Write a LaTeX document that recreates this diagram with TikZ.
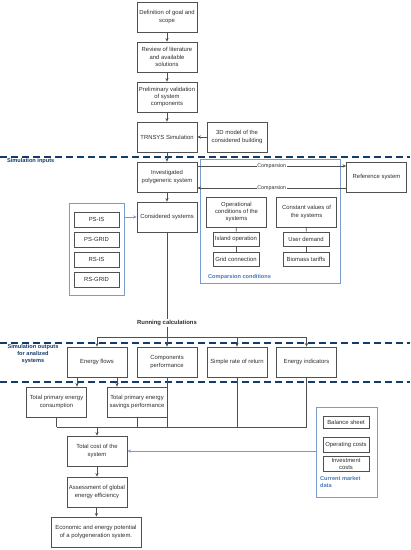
\documentclass[tikz,border=0pt]{standalone}
\usepackage{fontspec}
\setmainfont{Liberation Sans}
\usepackage{tikz}
\usetikzlibrary{arrows,arrows.meta,shapes,positioning}
\usepackage{xcolor}
\definecolor{sepblue}{RGB}{20,60,105}
\definecolor{grpblue}{RGB}{120,156,204}
\definecolor{lblblue}{RGB}{70,120,190}
\definecolor{boxgray}{RGB}{80,80,80}
\definecolor{txtgray}{RGB}{45,45,45}
\tikzstyle{box} = [draw=boxgray, line width=1.1pt, minimum width=30mm, minimum height=15mm, align=center, inner sep=1pt, text=txtgray, font=\fontsize{8.4}{10.4}\selectfont]
\tikzstyle{smallbox} = [box, minimum width=23mm, minimum height=7mm]
\tikzstyle{group} = [draw=grpblue, line width=1.2pt]
\tikzstyle{arrow} = [line width=1pt, color=boxgray, -{Stealth[length=5pt, width=4.5pt]}]
\tikzstyle{bluearrow} = [line width=1pt, color=grpblue, -{Stealth[length=5pt, width=4.5pt]}]
\tikzstyle{link} = [line width=1pt, color=boxgray]
\tikzstyle{separator} = [line width=2.4pt, color=sepblue, dash pattern=on 3.5mm off 2mm]
\tikzstyle{section} = [font=\fontsize{8}{9.8}\selectfont\bfseries, text=sepblue, align=center, inner sep=0pt]

\begin{document}
\begin{tikzpicture}[x=0.5mm, y=-0.5mm]
\useasboundingbox (0,0) rectangle (410,550);

% Separators
\draw[separator] (0,157) -- (410,157);
\draw[separator] (0,343) -- (410,343);
\draw[separator] (0,382) -- (410,382);
\node[section, anchor=west] (lblinputs) at (7,161.5) {Simulation inputs};
\node[section] (lbloutputs) at (33,354) {Simulation outputs\\for analized\\systems};

% Main column
\node[box] (goal) at (167,17) {Definition of goal and\\scope};
\node[box] (review) at (167,57) {Review of literature\\and available\\solutions};
\node[box] (prelim) at (167,97) {Preliminary validation\\of system\\components};
\node[box] (trnsys) at (167,137) {TRNSYS Simulation};
\node[box] (model) at (237,137) {3D model of the\\considered building};
\draw[arrow] (goal) -- (review);
\draw[arrow] (review) -- (prelim);
\draw[arrow] (prelim) -- (trnsys);
\draw[arrow] (model) -- (trnsys);

% Simulation inputs
\node[box] (invest) at (167,177) {Investigated\\polygeneric system};
\node[box] (considered) at (167,217) {Considered systems};
\node[box] (refsys) at (376.5,177) {Reference system};
\draw[arrow] (trnsys) -- (invest);
\draw[arrow] (invest) -- (considered);

% Comparsion conditions
\node[group, minimum width=70mm, minimum height=62mm] (compbox) at (270,221) {};
\node[font=\fontsize{8}{9.8}\selectfont\bfseries, text=lblblue, anchor=west, inner sep=0pt] (lblcomp) at (208,277.5) {Comparsion conditions};
\node[box] (opcond) at (236.5,212) {Operational\\conditions of the\\systems};
\node[box] (constval) at (306.5,212) {Constant values of\\the systems};
\node[smallbox] (island) at (236,239) {Island operation};
\node[smallbox] (gridconn) at (236,259) {Grid connection};
\node[smallbox] (userdem) at (306,239) {User demand};
\node[smallbox] (biomass) at (306,259) {Biomass tariffs};
\draw[link] (opcond) -- (island);
\draw[link] (island) -- (gridconn);
\draw[link] (constval) -- (userdem);
\draw[link] (userdem) -- (biomass);

\draw[arrow] ([yshift=5.5mm]invest.east) -- node[fill=white, inner sep=0.5pt, text=txtgray, font=\fontsize{7.6}{8}\selectfont] {Comparsion} ([yshift=5.5mm]refsys.west);
\draw[arrow] ([yshift=-5.5mm]refsys.west) -- node[fill=white, inner sep=0.5pt, text=txtgray, font=\fontsize{7.6}{8}\selectfont] {Comparsion} ([yshift=-5.5mm]invest.east);

% Considered systems
\node[group, minimum width=27.5mm, minimum height=46mm] (sysbox) at (96.5,249) {};
\node[smallbox, minimum width=22.5mm, minimum height=7.5mm] (psis) at (96.5,219.5) {PS-IS};
\node[smallbox, minimum width=22.5mm, minimum height=7.5mm] (psgrid) at (96.5,239.5) {PS-GRID};
\node[smallbox, minimum width=22.5mm, minimum height=7.5mm] (rsis) at (96.5,259.5) {RS-IS};
\node[smallbox, minimum width=22.5mm, minimum height=7.5mm] (rsgrid) at (96.5,279.5) {RS-GRID};
\draw[bluearrow] (sysbox.east |- considered) -- (considered.west);

% Running calculations
\node[font=\fontsize{8.4}{10}\selectfont\bfseries, text=txtgray, fill=white, inner sep=1pt] (running) at (167,323) {Running calculations};
\coordinate (split) at (167,337);
\draw[link] (considered.south) -- (running.north);
\draw[link] (running.south) -- (split);

% Simulation outputs
\node[box] (flows) at (97,362) {Energy flows};
\node[box] (compperf) at (167,362) {Components\\performance};
\node[box] (rate) at (237,362) {Simple rate of return};
\node[box] (indic) at (306.5,362) {Energy indicators};
\draw[link] (flows.north |- split) -- (indic.north |- split);
\foreach \out in {flows, compperf, rate, indic}
  \draw[arrow] (\out.north |- split) -- (\out.north);

% Primary energy
\node[box] (totcons) at (56.5,402) {Total primary energy\\consumption};
\node[box] (totsav) at (137,402) {Total primary energy\\savings performance};
\draw[arrow] ([xshift=-10mm]flows.south) -- ([xshift=-10mm]flows.south |- totcons.north);
\draw[arrow] ([xshift=10mm]flows.south) -- ([xshift=10mm]flows.south |- totsav.north);

\coordinate (join) at (97,427);
\draw[link] (totcons.south |- join) -- (indic.south |- join);
\foreach \res in {totcons, totsav, compperf, rate, indic}
  \draw[link] (\res.south) -- (\res.south |- join);

% Final results
\node[box] (totcost) at (97,451) {Total cost of the\\system};
\node[box] (assess) at (97,492) {Assessment of global\\energy efficiency};
\node[box, minimum width=45mm] (econ) at (96,532) {Economic and energy potential\\of a polygeneration system.};
\draw[arrow] (join) -- (totcost.north);
\draw[arrow] (totcost) -- (assess);
\draw[arrow] (assess) -- (econ);

% Current market data
\node[group, minimum width=30.5mm, minimum height=45mm] (marketbox) at (346.5,452) {};
\node[smallbox, minimum height=6mm] (balance) at (346,422.5) {Balance sheet};
\node[smallbox, minimum height=7.5mm] (opcost) at (346,444.5) {Operating costs};
\node[smallbox, minimum height=7.5mm] (invcost) at (346,464) {Investment\\costs};
\node[font=\fontsize{8}{9.8}\selectfont\bfseries, text=lblblue, anchor=north west, align=left, inner sep=0pt] (lblmarket) at (320,476) {Current market\\data};
\draw[bluearrow] (marketbox.west |- totcost) -- (totcost.east);
\end{tikzpicture}
\end{document}
